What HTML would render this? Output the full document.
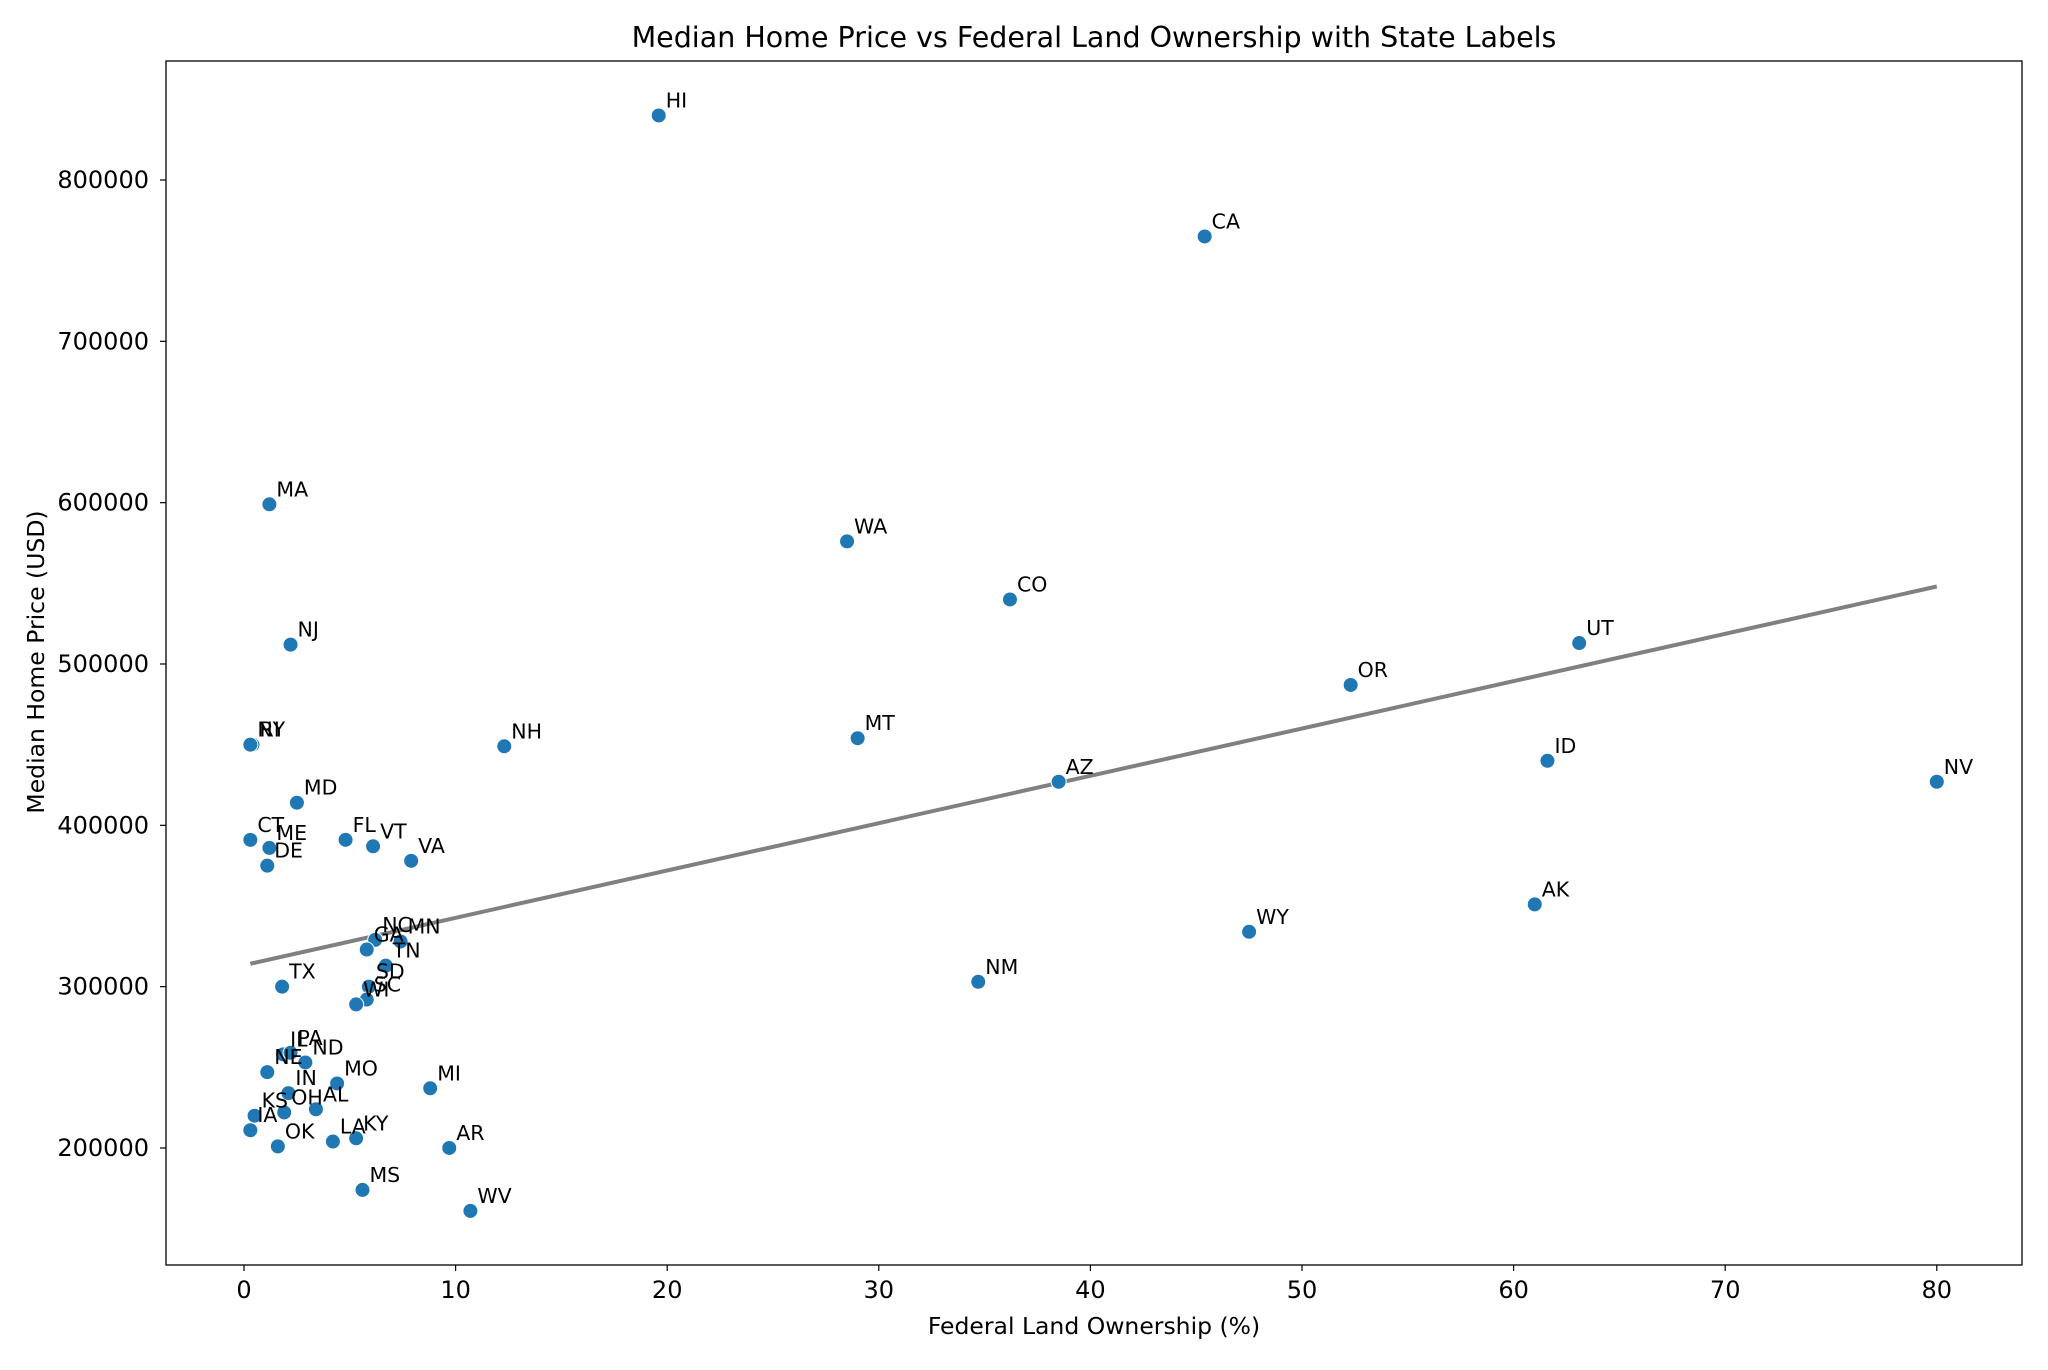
<!DOCTYPE html>
<html><head><meta charset="utf-8"><style>
html,body{margin:0;padding:0;background:#fff}
svg text{font-family:"DejaVu Sans","Liberation Sans",sans-serif;fill:#000}
</style></head><body>
<svg id="chart" width="2048" height="1365" xmlns="http://www.w3.org/2000/svg">
<rect width="2048" height="1365" fill="#fff"/>
<text x="1094" y="47" font-size="28.5" text-anchor="middle">Median Home Price vs Federal Land Ownership with State Labels</text>
<g id="grid"></g>
<g id="marks"></g>
<rect x="166" y="61" width="1856" height="1204" fill="none" stroke="#000" stroke-width="1.3"/>
<text x="1094" y="1334" font-size="23.5" text-anchor="middle">Federal Land Ownership (%)</text>
<text x="0" y="0" font-size="23.5" text-anchor="middle" transform="translate(44,662) rotate(-90)">Median Home Price (USD)</text>
</svg>
<script>
const states=["HI","CA","MA","WA","CO","NJ","UT","OR","RI","NY","NH","MT","ID","AZ","NV","MD","CT","ME","FL","VT","VA","DE","AK","WY","NC","MN","GA","TN","NM","TX","SD","SC","WI","IL","PA","ND","NE","MO","MI","IN","OH","KS","IA","AL","OK","LA","KY","AR","MS","WV"];
const fedLand=[19.6,45.4,1.2,28.5,36.2,2.2,63.1,52.3,0.4,0.3,12.3,29.0,61.6,38.5,80.0,2.5,0.3,1.2,4.8,6.1,7.9,1.1,61.0,47.5,6.2,7.4,5.8,6.7,34.7,1.8,5.9,5.8,5.3,1.85,2.2,2.9,1.1,4.4,8.8,2.1,1.9,0.5,0.3,3.4,1.6,4.2,5.3,9.7,5.6,10.7];
const homePrice=[840000,765000,599000,576000,540000,512000,513000,487000,450000,450000,449000,454000,440000,427000,427000,414000,391000,386000,391000,387000,378000,375000,351000,334000,329000,328000,323000,313000,303000,300000,300000,292000,289000,258000,259000,253000,247000,240000,237000,234000,222000,220000,211000,224000,201000,204000,206000,200000,174000,161000];
const xTicks=[0,10,20,30,40,50,60,70,80];
const yTicks=[200000,300000,400000,500000,600000,700000,800000];
const NS="http://www.w3.org/2000/svg";
const X=v=>244+v*21.16;
const Y=v=>180+(800000-v)/100000*161.33;
const grid=document.getElementById('grid'),marks=document.getElementById('marks');
function mk(tag,attrs,parent){const e=document.createElementNS(NS,tag);for(const k in attrs)e.setAttribute(k,attrs[k]);parent.appendChild(e);return e;}
xTicks.forEach(t=>{
  const l=mk('line',{x1:X(t),x2:X(t),y1:1265,y2:1271,stroke:'#000','stroke-width':1.2},grid);
  
  
  const tx=mk('text',{x:X(t),y:1298,'font-size':24,'text-anchor':'middle'},grid);
  tx.textContent=t;
  
  
});
yTicks.forEach(t=>{
  const l=mk('line',{x1:160,x2:166,y1:Y(t),y2:Y(t),stroke:'#000','stroke-width':1.2},grid);
  
  
  const tx=mk('text',{x:149,y:Y(t)+8,'font-size':24,'text-anchor':'end'},grid);
  tx.textContent=t;
  
  
});
const n=fedLand.length;let sx=0,sy=0,sxx=0,sxy=0;
for(let i=0;i<n;i++){sx+=fedLand[i];sy+=homePrice[i];sxx+=fedLand[i]*fedLand[i];sxy+=fedLand[i]*homePrice[i];}
const slope=(n*sxy-sx*sy)/(n*sxx-sx*sx),icpt=(sy-slope*sx)/n;
const xmin=Math.min(...fedLand),xmax=Math.max(...fedLand);
const tl=mk('line',{x1:X(xmin),y1:Y(icpt+slope*xmin),x2:X(xmax),y2:Y(icpt+slope*xmax),stroke:'#808080','stroke-width':4},marks);


for(let i=0;i<n;i++){
  const c=mk('circle',{cx:X(fedLand[i]),cy:Y(homePrice[i]),r:7.5,fill:'#1f77b4',stroke:'#fff','stroke-width':1},marks);
  
  
}
for(let i=0;i<n;i++){
  const t=mk('text',{x:X(fedLand[i])+7,y:Y(homePrice[i])-8,'font-size':20.5},marks);
  t.textContent=states[i];
  
  
}
</script>
</body></html>
